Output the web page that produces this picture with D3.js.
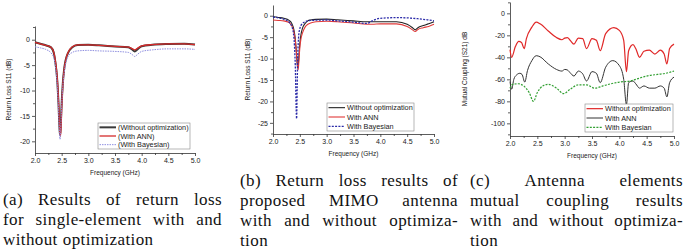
<!DOCTYPE html>
<html>
<head>
<meta charset="utf-8">
<script src="https://cdn.jsdelivr.net/npm/d3@7"></script>
<style>
body { margin: 0; background: #fff; }
svg { display: block; }
.cap text { font-family: 'Liberation Serif', 'DejaVu Serif', 'Times New Roman', serif; font-size: 17px; letter-spacing: 0.4px; }
</style>
</head>
<body>
<div id="fig"></div>
<script>

// ---- (a) single element return loss
let freqA = [2.0, 2.1, 2.2, 2.3, 2.35, 2.38, 2.4, 2.42, 2.44, 2.46, 2.47, 2.48, 2.5, 2.52, 2.55, 2.58, 2.62, 2.7, 2.8, 3.0, 3.2, 3.5, 3.75, 3.82, 3.87, 3.92, 4.0, 4.2, 4.5, 4.8, 5.0];
let aWithout  = [-0.5, -0.8, -1.1, -1.5, -2.5, -4.3, -6, -8.5, -12.5, -17.5, -18.8, -17.5, -12.5, -8.8, -5.5, -3.8, -2.6, -1.5, -1.05, -1.0, -1.1, -1.35, -1.5, -1.9, -2.3, -1.9, -1.3, -1.0, -0.85, -0.8, -0.95];
let aANN      = [-0.5, -0.8, -1.1, -1.5, -2.4, -4.0, -5.6, -8.0, -11.8, -16.8, -18.6, -19.0, -13.5, -9.2, -5.6, -3.8, -2.5, -1.4, -1.0, -1.0, -1.1, -1.3, -1.45, -1.75, -2.0, -1.7, -1.2, -0.95, -0.8, -0.8, -0.95];
let aBayesian = [-1.4, -1.6, -1.9, -2.6, -3.5, -5, -6.8, -9.5, -13.5, -18.5, -19.6, -18, -13, -9.5, -6.3, -4.5, -3.3, -2.5, -2.2, -2.1, -2.2, -2.3, -2.5, -2.9, -3.3, -2.9, -2.3, -2.0, -1.8, -1.8, -1.9];

// ---- (b) MIMO return loss
let freqB = [2.0, 2.1, 2.2, 2.3, 2.35, 2.38, 2.4, 2.42, 2.43, 2.44, 2.45, 2.46, 2.47, 2.48, 2.5, 2.52, 2.55, 2.6, 2.65, 2.7, 2.8, 3.0, 3.2, 3.5, 3.75, 3.85, 4.0, 4.3, 4.5, 4.6, 4.65, 4.7, 4.8, 4.9, 5.0];
let bWithout  = [-0.25, -0.4, -0.6, -1.1, -1.8, -2.8, -4, -6, -7.5, -9.3, -11, -12.2, -11.8, -10, -6.5, -4.5, -2.9, -1.8, -1.2, -1.0, -0.85, -0.8, -0.95, -1.2, -1.4, -1.4, -1.4, -1.4, -2.0, -2.8, -3.3, -2.8, -2.3, -1.9, -1.4];
let bANN      = [-1.0, -1.1, -1.2, -1.6, -2.4, -3.3, -4.5, -6.3, -7.7, -9.2, -10.8, -12.0, -12.6, -11, -7.5, -5.5, -4.0, -2.6, -2.0, -1.7, -1.4, -1.3, -1.4, -1.7, -2.0, -2.0, -1.9, -1.9, -2.5, -3.3, -3.7, -3.2, -2.8, -2.5, -2.0];
let bBayesian = [-0.3, -0.5, -0.8, -1.5, -2.5, -4, -7, -14, -21, -24, -17, -10, -6.5, -4.5, -3.0, -2.3, -1.8, -1.4, -1.2, -1.1, -1.05, -1.0, -1.2, -1.5, -1.8, -1.2, -0.6, -0.45, -0.5, -0.6, -0.65, -0.7, -0.85, -1.0, -1.2];

// ---- (c) mutual coupling
let freqCred = [2.0, 2.03, 2.1, 2.16, 2.21, 2.26, 2.3, 2.4, 2.48, 2.55, 2.7, 2.85, 2.95, 3.0, 3.05, 3.1, 3.17, 3.25, 3.33, 3.4, 3.5, 3.58, 3.65, 3.75, 3.9, 4.0, 4.08, 4.13, 4.17, 4.25, 4.3, 4.37, 4.45, 4.55, 4.65, 4.75, 4.82, 4.87, 4.92, 5.0];
let cWithout = [-33, -40, -30, -25.5, -26.5, -32, -23, -12.5, -8, -9.5, -16, -22, -24, -22.5, -22, -24.5, -28, -22.5, -23, -32, -23, -24.5, -34, -18.5, -13, -15.5, -24.5, -53, -34, -28.5, -32, -40, -34.5, -33.5, -37, -33.5, -37, -46, -32, -28];
let freqCann = [2.0, 2.03, 2.07, 2.12, 2.18, 2.22, 2.27, 2.32, 2.4, 2.48, 2.55, 2.7, 2.85, 2.95, 3.0, 3.05, 3.1, 3.17, 3.25, 3.33, 3.4, 3.5, 3.58, 3.65, 3.75, 3.88, 4.0, 4.08, 4.13, 4.17, 4.25, 4.3, 4.37, 4.45, 4.55, 4.65, 4.75, 4.82, 4.87, 4.92, 5.0];
let cANN     = [-62, -69, -60, -56, -54.5, -55.5, -62.5, -52, -43, -38.5, -39.5, -46, -51, -52.5, -51, -51.5, -54, -57, -52.5, -55, -61.5, -53, -54.5, -63, -49, -43, -47.5, -60, -83, -63, -61.5, -64, -68, -66, -68, -68, -66, -68, -76, -63, -58];
let freqCbay = [2.0, 2.05, 2.15, 2.25, 2.35, 2.43, 2.5, 2.6, 2.7, 2.85, 2.98, 3.1, 3.25, 3.4, 3.55, 3.7, 3.85, 4.0, 4.2, 4.3, 4.5, 4.7, 4.85, 5.0];
let cBayesian = [-68, -64.5, -64, -66, -72, -80, -72, -66, -64.5, -68, -73, -69, -65, -65, -68, -66, -64, -62.5, -61.5, -60, -57, -55.5, -54.5, -52.5];

let xTicks = [2.0, 2.5, 3.0, 3.5, 4.0, 4.5, 5.0];

let captionA = ["(a) Results of return loss", "for single-element with and", "without optimization"];
let captionB = ["(b) Return loss results of", "proposed MIMO antenna", "with and without optimiza-", "tion"];
let captionC = ["(c) Antenna elements", "mutual coupling results", "with and without optimiza-", "tion"];

let sans = '"Liberation Sans", Arial, sans-serif';

let svg = d3.select('#fig').append('svg').attr('width', 685).attr('height', 252);

let panels = [
  {left: 35, right: 195, top: 26, bottom: 153, yDomain: [-22.3, 2.7], yTicks: [0, -5, -10, -15, -20], yMinor: 2.5,
   yTitle: "Return Loss S11 (dB)", yTitleX: 11,
   legend: {x: 98, y: 123, w: 92, h: 26},
   series: [
     {name: "(Without optimization)", f: freqA, v: aWithout, color: "#3a3a3a", width: 2, dash: null},
     {name: "(With ANN)", f: freqA, v: aANN, color: "#d42a2a", width: 1.3, dash: null},
     {name: "(With Bayesian)", f: freqA, v: aBayesian, color: "#8f8fe0", width: 1, dash: "1.5,1"}
   ]},
  {left: 273, right: 434, top: 5, bottom: 134, yDomain: [-27.6, 2.5], yTicks: [0, -5, -10, -15, -20, -25], yMinor: 2.5,
   yTitle: "Return Loss S11 (dB)", yTitleX: 250,
   legend: {x: 327, y: 103, w: 87, h: 28},
   series: [
     {name: "Without optimization", f: freqB, v: bWithout, color: "#222", width: 1.1, dash: null},
     {name: "With ANN", f: freqB, v: bANN, color: "#e03a3a", width: 1.1, dash: null},
     {name: "With Bayesian", f: freqB, v: bBayesian, color: "#2a2aa8", width: 1.3, dash: "2,1.3"}
   ]},
  {left: 510, right: 674, top: 2, bottom: 136, yDomain: [-111.5, 10.3], yTicks: [0, -20, -40, -60, -80, -100], yMinor: 10,
   yTitle: "Mutual Coupling (S21) dB", yTitleX: 467,
   legend: {x: 585, y: 104, w: 88, h: 28},
   series: [
     {name: "Without optimization", f: freqCred, v: cWithout, color: "#e02828", width: 1.2, dash: null},
     {name: "With ANN", f: freqCann, v: cANN, color: "#333", width: 1, dash: null},
     {name: "With Bayesian", f: freqCbay, v: cBayesian, color: "#33a033", width: 1.2, dash: "2,1.3"}
   ]}
];

panels.forEach(function(p) {
  let x = d3.scaleLinear().domain([2, 5]).range([p.left, p.right]);
  let y = d3.scaleLinear().domain(p.yDomain).range([p.bottom, p.top]);
  let g = svg.append("g");

  // minor ticks first
  g.append("g")
    .attr("transform", `translate(0,${p.bottom})`)
    .call(d3.axisBottom(x).tickValues(d3.range(2.25, 5, 0.5)).tickSize(2).tickFormat("").tickSizeOuter(0))
    .call(a => a.select(".domain").remove());
  let yMin = d3.range(0, p.yDomain[0], -p.yMinor).concat(d3.range(p.yMinor, p.yDomain[1], p.yMinor))
    .filter(v => p.yTicks.indexOf(v) < 0);
  g.append("g")
    .attr("transform", `translate(${p.left},0)`)
    .call(d3.axisLeft(y).tickValues(yMin).tickSize(2).tickFormat("").tickSizeOuter(0))
    .call(a => a.select(".domain").remove());

  let xAxis = g.append("g")
    .attr("transform", `translate(0,${p.bottom})`)
    .call(d3.axisBottom(x).tickValues(xTicks).tickFormat(d3.format(".1f")).tickSize(3).tickSizeOuter(0).tickPadding(2));
  let yAxis = g.append("g")
    .attr("transform", `translate(${p.left},0)`)
    .call(d3.axisLeft(y).tickValues(p.yTicks).tickFormat(d => String(d)).tickSize(3).tickSizeOuter(0).tickPadding(2));

  g.selectAll(".domain, .tick line").attr("stroke", "#333").attr("stroke-width", 0.8);
  g.selectAll(".tick text").attr("font-family", sans).attr("font-size", 7).attr("fill", "#222");

  // titles
  g.append("text")
    .attr("x", (p.left + p.right) / 2)
    .attr("y", p.bottom + 22)
    .attr("text-anchor", "middle")
    .attr("font-family", sans).attr("font-size", 6.5).attr("fill", "#222")
    .text("Frequency (GHz)");
  g.append("text")
    .attr("transform", `translate(${p.yTitleX},${(p.top + p.bottom) / 2}) rotate(-90)`)
    .attr("text-anchor", "middle")
    .attr("font-family", sans).attr("font-size", 6.5).attr("fill", "#222")
    .text(p.yTitle);

  let line = d3.line()
    .x(d => x(d[0]))
    .y(d => y(d[1]))
    .curve(d3.curveMonotoneX);

  p.series.forEach(function(s) {
    g.append("path")
      .datum(d3.zip(s.f, s.v))
      .attr("fill", "none")
      .attr("stroke", s.color)
      .attr("stroke-width", s.width)
      .attr("stroke-dasharray", s.dash)
      .attr("stroke-linejoin", "round")
      .attr("d", line);
  });

  // legend
  let L = p.legend;
  g.append("rect")
    .attr("x", L.x).attr("y", L.y).attr("width", L.w).attr("height", L.h)
    .attr("fill", "#fff").attr("stroke", "#888").attr("stroke-width", 0.6);
  let rowH = L.h / 3;
  p.series.forEach(function(s, i) {
    let cy = L.y + rowH * (i + 0.5);
    g.append("line")
      .attr("x1", L.x + 1.5).attr("x2", L.x + 18)
      .attr("y1", cy).attr("y2", cy)
      .attr("stroke", s.color).attr("stroke-width", s.width)
      .attr("stroke-dasharray", s.dash);
    g.append("text")
      .attr("x", L.x + 20).attr("y", cy + 2.5)
      .attr("font-family", sans).attr("font-size", 7.3).attr("fill", "#222")
      .text(s.name);
  });
});

// captions, justified like the LaTeX subcaptions
function caption(lines, x0, x1, baseline) {
  let g = svg.append("g").attr("class", "cap").attr("fill", "#111");
  lines.forEach(function(ln, i) {
    let yy = baseline + i * 20;
    let words = ln.split(" ");
    let last = i == lines.length - 1;
    let tmp = words.map(w => g.append("text").attr("y", yy).text(w));
    let widths = tmp.map(t => t.node().getComputedTextLength());
    let gap = last || words.length < 2 ? 5 : (x1 - x0 - d3.sum(widths)) / (words.length - 1);
    let cx = x0;
    tmp.forEach(function(t, k) {
      t.attr("x", cx);
      cx += widths[k] + gap;
    });
  });
}

caption(captionA, 3, 222, 205);
caption(captionB, 240, 458, 186);
caption(captionC, 470, 683, 186);

</script>
</body>
</html>
